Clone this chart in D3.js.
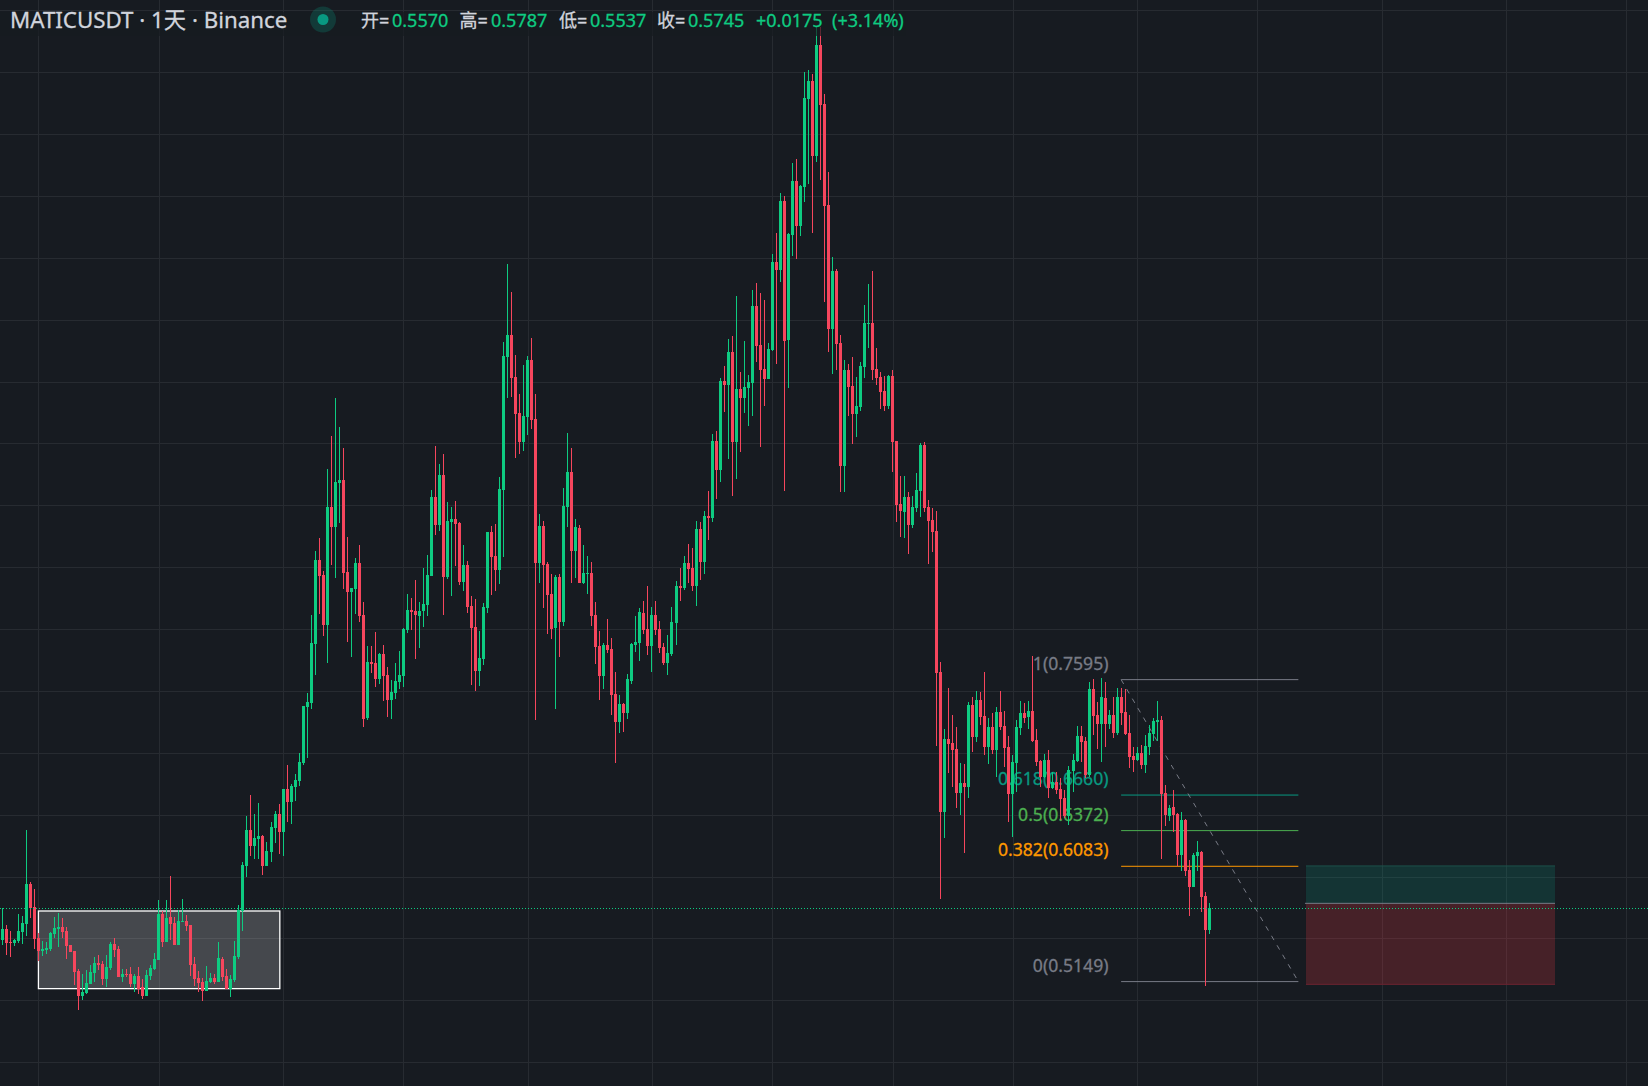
<!DOCTYPE html>
<html><head><meta charset="utf-8">
<script src="https://cdn.jsdelivr.net/npm/d3@7"></script>
<style>html,body{margin:0;padding:0;background:#171b21;overflow:hidden}svg{display:block}text{font-family:"Noto Sans","Noto Sans CJK SC",sans-serif;paint-order:stroke;stroke-width:.3px}</style>
</head><body><svg id="c" width="1648" height="1086"></svg>
<script>
const opens=[.5486,.5575,.5470,.5462,.5478,.5551,.5616,.5940,.5753,.5502,
.5397,.5405,.5413,.5535,.5575,.5591,.5559,.5445,.5397,.5235,
.5032,.5057,.5130,.5219,.5300,.5292,.5170,.5259,.5454,.5413,
.5186,.5211,.5211,.5130,.5194,.5105,.5032,.5194,.5251,.5324,
.5697,.5470,.5672,.5624,.5445,.5632,.5640,.5607,.5292,.5178,
.5146,.5073,.5146,.5178,.5146,.5332,.5194,.5089,.5162,.5348,
.5721,.6085,.6377,.6247,.6304,.6328,.6085,.6199,.6393,.6507,
.6361,.6709,.6604,.6725,.6774,.6920,.7373,.7406,.7884,.8564,
.8442,.8037,.8993,.8831,.9188,.9212,.8467,.8305,.8329,.8540,
.8118,.7284,.7738,.7730,.7600,.7803,.7632,.7430,.7487,.7576,
.7624,.7997,.8159,.8151,.8110,.8151,.8199,.8434,.9074,.8847,
.9252,.8426,.8872,.8896,.8864,.8386,.8523,.8191,.8021,.7665,
.7762,.8175,.8791,.8596,.8483,.9131,1.0208,1.0386,1.0046,.9755,
.9520,.9722,1.0184,.9706,.8540,.8839,.8532,.8289,.8013,.8426,
.8062,.8993,.9277,.8637,.8823,.8378,.8451,.8459,.8118,.7867,
.7624,.7875,.7843,.7479,.7252,.7398,.7325,.7584,.7875,.7892,
.8135,.8005,.7867,.8118,.8005,.7859,.7730,.7803,.8054,.8353,
.8337,.8540,.8499,.8353,.8815,.8548,.8920,.8904,.9528,.9293,
1.0014,.9981,1.0249,.9520,.9949,.9876,.9957,.9998,1.0621,1.0305,
1.0111,1.0030,1.0265,1.0978,1.0913,1.1472,1.0346,1.1196,1.1634,1.1269,
1.1585,1.2298,1.2444,1.1836,1.2735,1.2258,1.1439,1.0435,1.0905,1.0322,
.9325,1.0103,.9973,.9747,.9803,1.0127,1.0476,1.0484,1.0111,1.0046,
.9933,.9811,1.0054,.9528,.9018,.8953,.9074,.8847,.8985,.9123,
.9495,.8993,.8888,.8799,.7657,.6523,.7114,.7082,.7033,.6677,
.6758,.6725,.7389,.7130,.7430,.7300,.7049,.7211,.7025,.7333,
.7219,.7049,.6669,.6920,.7203,.7325,.7292,.7341,.7106,.6936,
.6806,.6944,.6717,.6766,.6709,.6636,.6490,.6855,.6936,.7138,
.7098,.6822,.7519,.7308,.7236,.7446,.7236,.7308,.7163,.7454,
.7333,.7163,.6976,.6944,.7001,.6903,.7049,.7155,.7252,.7268,
.6677,.6490,.6563,.6507,.6174,.6458,.6053,.5915,.6166,.6199,.5842,.5570];
const highs=[.5742,.5607,.5559,.5494,.5697,.5680,.6377,.5956,.5899,.5543,
.5478,.5470,.5551,.5672,.5705,.5664,.5591,.5445,.5397,.5251,
.5211,.5243,.5283,.5348,.5364,.5316,.5364,.5470,.5502,.5437,
.5251,.5251,.5267,.5211,.5267,.5170,.5243,.5283,.5381,.5810,
.5721,.5810,.6004,.5672,.5729,.5818,.5688,.5607,.5348,.5235,
.5178,.5275,.5219,.5211,.5470,.5348,.5251,.5202,.5478,.5769,
.6118,.6490,.6660,.6507,.6596,.6336,.6280,.6442,.6531,.6588,
.6709,.6903,.6750,.6831,.7001,.7381,.7487,.8118,.8637,.8742,
.8475,.9301,.9568,.9876,.9641,.9471,.8750,.8337,.8580,.8685,
.8224,.7867,.7867,.7981,.7811,.7875,.7697,.7592,.7730,.7827,
.8013,.8289,.8256,.8402,.8224,.8499,.8604,.9131,.9487,.9342,
.9423,.9034,.8993,.9042,.8872,.8685,.8556,.8272,.8248,.7989,
.8216,.8791,.8839,.8856,.9236,1.0330,1.0962,1.0735,1.0224,.9909,
1.0143,1.0216,1.0362,.9909,.8937,.8880,.8548,.8451,.8442,.8451,
.9147,.9593,.9471,.8896,.8847,.8685,.8596,.8548,.8224,.7989,
.7892,.8086,.7932,.7657,.7470,.7406,.7641,.7892,.8110,.8175,
.8232,.8353,.8183,.8232,.8070,.7892,.7956,.8183,.8394,.8499,
.8596,.8694,.8661,.8880,.8872,.8961,.9123,.9585,.9609,1.0038,
1.0135,1.0354,1.0378,1.0702,1.0087,1.0338,1.0062,1.0751,1.0808,1.0727,
1.0670,1.0322,1.1043,1.1213,1.1537,1.1512,1.1213,1.1780,1.1812,1.1601,
1.2517,1.2533,1.2501,1.2881,1.2881,1.2339,1.1707,1.1018,1.0921,1.0386,
1.0184,1.0152,1.0208,1.0046,1.0168,1.0629,1.0800,1.0905,1.0281,1.0087,
1.0054,1.0062,1.0103,.9528,.9244,.9244,.9115,.9082,.9269,.9512,
.9520,.9050,.8985,.8961,.7738,.7195,.7527,.7308,.7211,.6920,
.6912,.7414,.7454,.7503,.7495,.7657,.7284,.7325,.7373,.7503,
.7341,.7138,.6984,.7268,.7422,.7406,.7422,.7786,.7195,.6944,
.6993,.7025,.6847,.6847,.6798,.6701,.6895,.6993,.7219,.7219,
.7130,.7576,.7600,.7414,.7608,.7576,.7349,.7454,.7527,.7527,
.7519,.7308,.7049,.7049,.7065,.7146,.7227,.7284,.7422,.7300,
.6741,.6579,.6701,.6515,.6523,.6466,.6134,.6191,.6288,.6207,.5875,.5787];
const lows=[.5445,.5364,.5348,.5437,.5462,.5454,.5518,.5664,.5413,.5316,
.5356,.5373,.5397,.5502,.5429,.5502,.5332,.5389,.5121,.4919,
.5000,.5049,.5130,.5146,.5243,.5121,.5105,.5243,.5348,.5186,
.5146,.5186,.5105,.5065,.5049,.5008,.5032,.5162,.5243,.5324,
.5429,.5470,.5486,.5445,.5445,.5632,.5559,.5194,.5113,.5065,
.4992,.5073,.5138,.5130,.5146,.5154,.5089,.5024,.5146,.5332,
.5559,.5996,.6166,.6142,.6142,.6012,.6085,.6118,.6272,.6183,
.6166,.6442,.6426,.6612,.6733,.6903,.6960,.7357,.7632,.8127,
.7948,.7730,.8523,.8418,.8864,.8329,.7900,.7778,.8127,.8062,
.7211,.7268,.7649,.7535,.7560,.7422,.7292,.7276,.7438,.7519,
.7535,.7973,.7997,.7762,.7851,.8021,.8110,.8434,.8766,.8799,
.8118,.8410,.8272,.8515,.8361,.8313,.8135,.7551,.7503,.7543,
.7713,.8135,.8280,.8313,.8370,.8588,.9876,.9884,.9390,.9423,
.9447,.9576,.9625,.7268,.8378,.8175,.7965,.7924,.7357,.7778,
.8029,.8831,.8378,.8418,.8378,.8370,.8289,.8029,.7722,.7430,
.7519,.7811,.7308,.6920,.7163,.7171,.7276,.7560,.7819,.7746,
.7965,.7794,.7657,.7956,.7811,.7713,.7632,.7786,.7875,.8232,
.8321,.8378,.8313,.8191,.8402,.8451,.8726,.8872,.9058,.9196,
.9763,.9382,.9082,.9220,.9439,.9755,.9649,.9730,1.0168,.9479,
.9811,1.0030,1.0257,1.0152,1.0816,.9123,.9957,1.1026,1.1002,1.1188,
1.1464,1.1610,1.1213,1.1788,1.1642,1.0654,1.0249,1.0071,1.0103,.9115,
.9115,.9730,.9504,.9560,.9771,1.0038,1.0281,1.0022,.9981,.9787,
.9771,.9787,.9277,.8872,.8750,.8742,.8613,.8823,.8953,.8912,
.8953,.8532,.8629,.7057,.5818,.6312,.6839,.6725,.6555,.6498,
.6191,.6636,.7009,.7090,.7227,.6984,.6912,.6993,.6806,.7187,
.6887,.6442,.6320,.6685,.7146,.7244,.7195,.7090,.6895,.6725,
.6798,.6636,.6709,.6669,.6458,.6474,.6417,.6685,.6928,.6928,
.6798,.6806,.7146,.7033,.6928,.7049,.7195,.7122,.7146,.7227,
.7146,.6879,.6847,.6936,.6871,.6839,.6984,.7098,.7098,.6142,
.6409,.6450,.6361,.6085,.6045,.6004,.5680,.5915,.6045,.5713,.5113,.5537];
const closes=[.5575,.5462,.5462,.5486,.5559,.5624,.5940,.5742,.5494,.5397,
.5413,.5421,.5543,.5583,.5591,.5551,.5437,.5389,.5227,.5032,
.5065,.5138,.5227,.5300,.5283,.5170,.5267,.5454,.5405,.5186,
.5211,.5202,.5130,.5194,.5089,.5032,.5202,.5259,.5332,.5697,
.5470,.5664,.5616,.5445,.5640,.5640,.5599,.5283,.5170,.5138,
.5073,.5154,.5178,.5146,.5340,.5186,.5089,.5170,.5356,.5729,
.6093,.6377,.6247,.6312,.6328,.6085,.6207,.6401,.6507,.6361,
.6709,.6604,.6733,.6782,.6928,.7381,.7414,.7892,.8564,.8434,
.8037,.8993,.8831,.9196,.9212,.8459,.8305,.8337,.8540,.8110,
.7276,.7738,.7722,.7600,.7803,.7624,.7430,.7495,.7584,.7632,
.8005,.8159,.8143,.8118,.8151,.8208,.8442,.9074,.8847,.9252,
.8426,.8880,.8896,.8856,.8386,.8523,.8183,.8013,.7665,.7770,
.8183,.8791,.8588,.8483,.9139,1.0216,1.0386,1.0038,.9747,.9520,
.9730,1.0184,.9698,.8540,.8839,.8523,.8280,.8005,.8426,.8062,
.9001,.9277,.8637,.8831,.8378,.8459,.8459,.8110,.7859,.7624,
.7875,.7835,.7470,.7252,.7398,.7325,.7600,.7884,.7900,.8143,
.7997,.7867,.8118,.7997,.7851,.7730,.7811,.8062,.8353,.8337,
.8540,.8491,.8353,.8815,.8548,.8920,.8904,.9528,.9293,1.0014,
.9981,1.0249,.9520,.9949,.9876,.9965,1.0006,1.0621,1.0297,1.0103,
1.0030,1.0273,1.0978,1.0913,1.1472,1.0338,1.1205,1.1634,1.1269,1.1593,
1.2306,1.2444,1.1836,1.2735,1.2249,1.1431,1.0435,1.0905,1.0314,.9325,
1.0103,.9965,.9747,.9811,1.0135,1.0484,1.0484,1.0103,1.0038,.9925,
.9811,1.0054,.9520,.9009,.8961,.9074,.8847,.8993,.9131,.9495,
.8985,.8880,.8791,.7649,.6523,.7114,.7074,.7025,.6677,.6758,
.6725,.7389,.7130,.7430,.7292,.7049,.7211,.7025,.7333,.7211,
.7041,.6669,.6928,.7211,.7325,.7284,.7341,.7098,.6928,.6806,
.6944,.6717,.6766,.6701,.6628,.6490,.6863,.6944,.7138,.7090,
.6822,.7519,.7300,.7236,.7454,.7236,.7308,.7163,.7454,.7325,
.7155,.6968,.6944,.7001,.6903,.7057,.7163,.7260,.7268,.6669,
.6498,.6555,.6498,.6174,.6458,.6045,.5915,.6174,.6199,.5834,.5567,.5745];

const gridPrices=[.4497,.4998,.5499,.6000,.6501,.7002,.7504,.8005,.8506,.9007,.9508,1.0009,1.0510,1.1011,1.1512,1.2014,1.2515,1.3016];
const gridIndices=[9,39,70,100,131,162,192,222,252,283,313,344,375,405];
const lastPrice=.5745;
const fibLevels=["1","0.618","0.5","0.382","0"];
const fibPrices=[.7595,.6660,.6372,.6083,.5149];
const fibColors=["#787b86","#089981","#4caf50","#ff9800","#787b86"];
const fibStart=279.0, fibEnd=323.2;
const boxRange=[9,69.2], boxPrices=[.5721,.5092];
const rrRange=[325.1,387.2], rrPrices=[.6086,.5783,.5127];
const titleText="MATICUSDT · 1天 · Binance";
const ohlcLabels=["开=","高=","低=","收="];
const ohlcValues=["0.5570","0.5787","0.5537","0.5745"];
const changeValues=["+0.0175","(+3.14%)"];

const W=1648,H=1086;
const up="#0ecb81",down="#f6465d",bg="#171b21";
const x=d3.scaleLinear().domain([0,301]).range([2.33,2.33+4.01*301]);
const y=d3.scaleLinear().domain([.5,1.3]).range([1000,1000-.8*1234.57]);
const svg=d3.select("#c");
svg.append("rect").attr("width",W).attr("height",H).attr("fill",bg);

const grid=svg.append("g").attr("stroke","#272b31").attr("stroke-width",1).attr("shape-rendering","crispEdges");
grid.selectAll(".h").data(gridPrices).join("line").attr("x1",0).attr("x2",W).attr("y1",d=>Math.round(y(d))+.5).attr("y2",d=>Math.round(y(d))+.5);
grid.selectAll(".v").data(gridIndices).join("line").attr("y1",0).attr("y2",H).attr("x1",d=>Math.round(x(d))+.5).attr("x2",d=>Math.round(x(d))+.5);

// highlighted rectangle
svg.append("rect").attr("x",x(boxRange[0])).attr("y",y(boxPrices[0]))
 .attr("width",x(boxRange[1])-x(boxRange[0])).attr("height",y(boxPrices[1])-y(boxPrices[0]))
 .attr("fill","rgba(255,255,255,.2)").attr("stroke","#fff").attr("stroke-width",1.3);

// risk/reward box
const rrx=x(rrRange[0]),rrw=x(rrRange[1])-x(rrRange[0]);
svg.append("rect").attr("x",rrx).attr("y",y(rrPrices[0])).attr("width",rrw).attr("height",y(rrPrices[1])-y(rrPrices[0])).attr("fill","rgba(8,153,129,.2)");
svg.append("rect").attr("x",rrx).attr("y",y(rrPrices[1])).attr("width",rrw).attr("height",y(rrPrices[2])-y(rrPrices[1])).attr("fill","rgba(242,54,69,.22)");
svg.append("line").attr("x1",rrx).attr("x2",rrx+rrw).attr("y1",y(rrPrices[0])).attr("y2",y(rrPrices[0])).attr("stroke","#1d5049");
svg.append("line").attr("x1",rrx).attr("x2",rrx+rrw).attr("y1",y(rrPrices[2])).attr("y2",y(rrPrices[2])).attr("stroke","#6e2430");
svg.append("line").attr("x1",rrx-1).attr("x2",rrx+rrw).attr("y1",y(rrPrices[1])).attr("y2",y(rrPrices[1])).attr("stroke","#787b86");

// fib tool
const fib=svg.append("g");
fib.selectAll("line.l").data(fibPrices).join("line").attr("x1",x(fibStart)).attr("x2",x(fibEnd)).attr("y1",d=>y(d)).attr("y2",d=>y(d)).attr("stroke",(d,i)=>fibColors[i]).attr("stroke-width",1);
fib.append("line").attr("x1",x(fibStart)).attr("x2",x(fibEnd)).attr("y1",y(fibPrices[0])).attr("y2",y(fibPrices[4])).attr("stroke","#787b86").attr("stroke-dasharray","5 6");
fib.selectAll("text").data(fibPrices).join("text").attr("x",1108.5).attr("y",d=>y(d)-10).attr("text-anchor","end").attr("font-size",17.6).attr("fill",(d,i)=>fibColors[i]).attr("stroke",(d,i)=>fibColors[i]).text((d,i)=>`${fibLevels[i]}(${d.toFixed(4)})`);

// candles
const idx=d3.range(opens.length);
const col=i=>closes[i]>=opens[i]?up:down;
const left=i=>Math.round(x(i)-1.5);
const cg=svg.append("g").attr("shape-rendering","crispEdges");
cg.selectAll(".w").data(idx).join("rect").attr("x",i=>left(i)+1).attr("width",1).attr("y",i=>y(highs[i])).attr("height",i=>y(lows[i])-y(highs[i])).attr("fill",col);
cg.selectAll(".b").data(idx).join("rect").attr("x",left).attr("width",3).attr("y",i=>y(Math.max(opens[i],closes[i]))).attr("height",i=>Math.max(1,Math.abs(y(opens[i])-y(closes[i])))).attr("fill",col);

// last price line
svg.append("line").attr("x1",0).attr("x2",W).attr("y1",Math.round(y(lastPrice))+.5).attr("y2",Math.round(y(lastPrice))+.5).attr("stroke",up).attr("stroke-dasharray","1 2").attr("shape-rendering","crispEdges");

// legend backdrop dims what passes under the header
svg.append("rect").attr("x",0).attr("y",12).attr("width",906).attr("height",24).attr("fill",bg).attr("fill-opacity",.7);

// header
svg.append("text").attr("x",10).attr("y",28).attr("font-size",22.3).attr("fill","#d1d4dc").attr("stroke","#d1d4dc").text(titleText);
svg.append("circle").attr("cx",323).attr("cy",19.5).attr("r",13).attr("fill","#089981").attr("fill-opacity",.25);
svg.append("circle").attr("cx",323).attr("cy",19.5).attr("r",5.5).attr("fill","#089981");
const labelX=[361,459.5,559,657],valueX=[392,491,590,688],changeX=[756,832];
ohlcLabels.forEach((l,i)=>{
 svg.append("text").attr("x",labelX[i]).attr("y",27).attr("font-size",18).attr("fill","#d1d4dc").attr("stroke","#d1d4dc").text(l);
 svg.append("text").attr("x",valueX[i]).attr("y",27).attr("font-size",18).attr("fill",up).attr("stroke",up).text(ohlcValues[i]);
});
changeValues.forEach((t,i)=>svg.append("text").attr("x",changeX[i]).attr("y",27).attr("font-size",18).attr("fill",up).attr("stroke",up).text(t));
</script></body></html>
